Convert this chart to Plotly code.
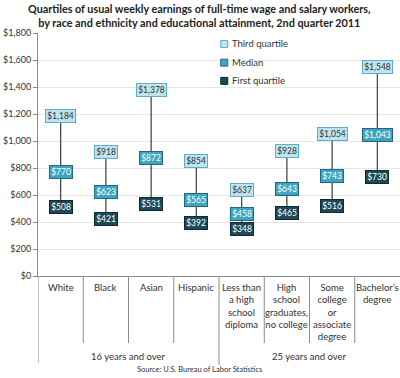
import plotly.graph_objects as go

categories = ["White", "Black", "Asian", "Hispanic",
              "Less than<br>a high<br>school<br>diploma",
              "High<br>school<br>graduates,<br>no college",
              "Some<br>college<br>or<br>associate<br>degree",
              "Bachelor\u2019s<br>degree"]
third_q = [1184, 918, 1378, 854, 637, 928, 1054, 1548]
median = [770, 623, 872, 565, 458, 643, 743, 1043]
first_q = [508, 421, 531, 392, 348, 465, 516, 730]
groups = ["16 years and over", "25 years and over"]
y_ticks = [0, 200, 400, 600, 800, 1000, 1200, 1400, 1600, 1800]

FONT = "Lato"
TXT = "#333333"
xs = list(range(len(categories)))

fig = go.Figure()

# whisker lines
lx, ly = [], []
for i in xs:
    lx += [i, i, None]
    ly += [first_q[i], third_q[i], None]
fig.add_trace(go.Scatter(x=lx, y=ly, mode="lines", line=dict(color="#4a4a4a", width=1.3),
                         showlegend=False, hoverinfo="skip"))

series = [
    ("Third quartile", third_q, "#bfe4ef", "#5aaec6", TXT),
    ("Median", median, "#3ea6c2", "#22697e", "#ffffff"),
    ("First quartile", first_q, "#1d4a58", "#0e2a33", "#ffffff"),
]
leg_y = [0.955, 0.878, 0.803]
for k, (name, vals, fill, border, tcol) in enumerate(series):
    fig.add_trace(go.Scatter(x=xs, y=vals, mode="markers", name=name, showlegend=False,
                             marker=dict(symbol="square", size=6, color=fill,
                                         line=dict(color=border, width=1)),
                             hoverinfo="skip"))
    for i, v in enumerate(vals):
        fig.add_annotation(x=i, y=v, xref="x", yref="y", text=f"${v:,}", showarrow=False,
                           font=dict(family=FONT, size=8.5, color=tcol),
                           bgcolor=fill, bordercolor=border, borderwidth=1, borderpad=1.2,
                           xanchor="center", yanchor="middle")
    # manual legend entry
    yc = leg_y[k]
    fig.add_shape(type="rect", xref="paper", yref="paper",
                  x0=0.5145 - 0.0097, x1=0.5145 + 0.0097, y0=yc - 0.0144, y1=yc + 0.0144,
                  fillcolor=fill, line=dict(color=border, width=1))
    fig.add_annotation(x=0.531, y=yc, xref="paper", yref="paper", text=name, showarrow=False,
                       font=dict(family=FONT, size=9.5, color=TXT), xanchor="left", yanchor="middle")

# category labels
for i, c in enumerate(categories):
    fig.add_annotation(x=i, y=-0.018, xref="x", yref="paper", text=c, showarrow=False,
                       font=dict(family=FONT, size=9.5, color=TXT),
                       xanchor="center", yanchor="top", align="center")

# separators
sep_col = "#8a8a8a"
for k in range(1, len(categories)):
    y1 = -0.366 if k == 4 else -0.276
    fig.add_shape(type="line", xref="x", yref="paper", x0=k - 0.5, x1=k - 0.5, y0=0, y1=y1,
                  line=dict(color=sep_col, width=1))
fig.add_shape(type="line", xref="x", yref="paper", x0=-0.5, x1=-0.5, y0=0, y1=-0.358,
              line=dict(color=sep_col, width=1))

# group labels
for gi, gx in enumerate([1.5, 5.5]):
    fig.add_annotation(x=gx, y=-0.333, xref="x", yref="paper", text=groups[gi], showarrow=False,
                       font=dict(family=FONT, size=9.5, color=TXT), xanchor="center", yanchor="middle")
fig.add_annotation(x=0.447, y=-0.386, xref="paper", yref="paper",
                   text="Source: U.S. Bureau of Labor Statistics", showarrow=False,
                   font=dict(family=FONT, size=7.5, color=TXT), xanchor="center", yanchor="middle")

# title
fig.add_annotation(x=0.447, y=1.137, xref="paper", yref="paper",
                   text="<b>Quartiles of usual weekly earnings of full-time wage and salary workers,<br>by race and ethnicity and educational attainment, 2nd quarter 2011</b>",
                   showarrow=False, font=dict(family=FONT, size=10.8, color="#222222"),
                   xanchor="center", yanchor="top", align="center")

fig.update_layout(
    width=400, height=378,
    margin=dict(l=38, r=0, t=33, b=102),
    paper_bgcolor="white", plot_bgcolor="white",
    font=dict(family=FONT, size=9, color=TXT),
    showlegend=False,
    xaxis=dict(range=[-0.5, 7.5], tickvals=xs, showticklabels=False, showgrid=False,
               showline=True, linecolor=sep_col, linewidth=1, zeroline=False),
    yaxis=dict(range=[0, 1800], tickvals=y_ticks, ticktext=[f"${v:,}" for v in y_ticks],
               showgrid=True, gridcolor="#e6e6e6", showline=True, linecolor=sep_col,
               linewidth=1, ticks="outside", ticklen=4, tickcolor=sep_col, zeroline=False,
               tickfont=dict(family=FONT, size=9, color=TXT)),
)

fig.write_html("out.html", config={"displayModeBar": False},
               post_script="document.body.style.margin='0';")
